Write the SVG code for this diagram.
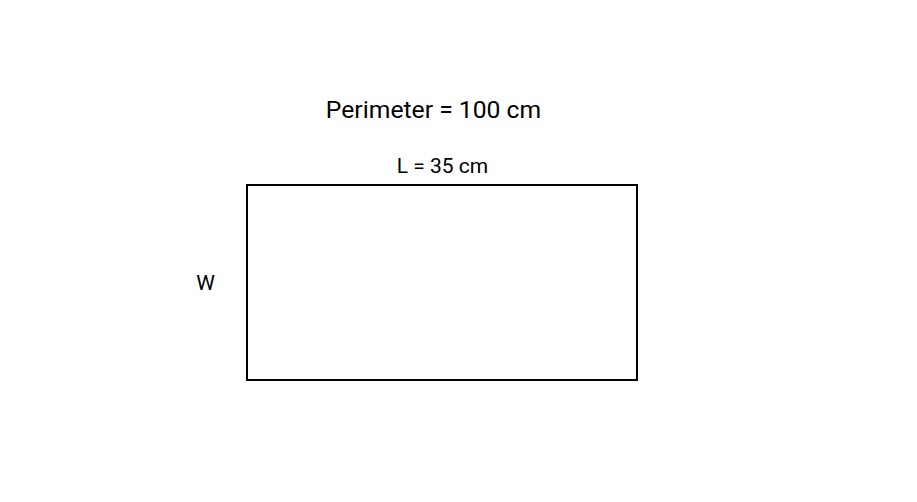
<svg xmlns="http://www.w3.org/2000/svg" width="917" height="502" viewBox="0 0 917 502">
<style>
text{font-family:Roboto,"Liberation Sans",sans-serif;fill:#000;text-anchor:middle}
.t{font-size:24.7px}
.l{font-size:21px}
</style>
<rect width="917" height="502" fill="#fff"/>
<g id="title"><text class="t" x="433.5" y="118">Perimeter = 100 cm</text></g>
<g id="rectangle"><rect x="247" y="185" width="390" height="195" fill="none" stroke="#000" stroke-width="2"/></g>
<g id="length-label"><text class="l" x="442.5" y="173">L = 35 cm</text></g>
<g id="width-label"><text class="l" x="205.5" y="290">W</text></g>
<g id="connectors"></g>
</svg>
